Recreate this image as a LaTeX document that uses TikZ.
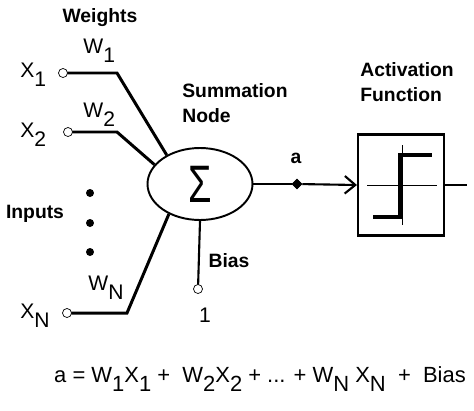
\documentclass[tikz,border=0pt]{standalone}
\usepackage{fontspec}
\setmainfont{Liberation Sans}
\usetikzlibrary{shapes.geometric,arrows.meta}

\tikzstyle{terminal}=[draw,thin,circle,fill=white,minimum size=0.18cm,
    inner sep=0pt,outer sep=0pt]
\tikzstyle{weightline}=[line width=1.7pt]
\tikzstyle{wire}=[line width=1.2pt]
\tikzstyle{caption}=[font=\bfseries\fontsize{11}{14.7}\selectfont,
    inner sep=0pt,align=left]
\tikzstyle{symbol}=[font=\fontsize{12}{14}\selectfont,inner sep=0pt]
\tikzstyle{blob}=[fill,circle,minimum size=0.16cm,inner sep=0pt]
\newcommand{\lowidx}[2]{#1\raisebox{-5.5pt}{#2}}
\newcommand{\inputbranch}[4]{
    \node[terminal] at (#2) (#1) {};
    \coordinate (#1bend) at (#3);
    \draw[weightline] (#1) -- (#1bend) -- (sum.#4);
}

\begin{document}
\begin{tikzpicture}[x=0.02cm,y=-0.02cm]
    \useasboundingbox (0,0) rectangle (474,410);
    %
    \node[draw,ellipse,line width=1.1pt,minimum width=2.1cm,
        minimum height=1.44cm,inner sep=0pt,
        font=\fontsize{30}{30}\selectfont] (sum) at (200,184)
        {\scalebox{0.72}[1]{Σ}};
    %
    \inputbranch{x1}{63,73}{117,73}{139}
    \inputbranch{x2}{68,132}{117,132}{157}
    \inputbranch{xn}{67,313}{127,313}{224}
    \node[symbol,anchor=base west] (lx1) at (20,77) {\lowidx{X}{1}};
    \node[symbol,anchor=base west] (lx2) at (20,137) {\lowidx{X}{2}};
    \node[symbol,anchor=base west] (lxn) at (20,318) {\lowidx{X}{N}};
    \node[symbol,anchor=base west] (lw1) at (83,53) {\lowidx{W}{1}};
    \node[symbol,anchor=base west] (lw2) at (83,117) {\lowidx{W}{2}};
    \node[symbol,anchor=base west] (lwn) at (88,290) {\lowidx{W}{N}};
    \foreach \y/\n in {193/1,223/2,252/3}
        \node[blob] (dot\n) at (90,\y) {};
    \node[caption] (weights) at (100,18) {Weights};
    \node[caption] (inputs) at (35,214) {Inputs};
    \node[caption,anchor=west] (sumlabel) at (182,103) {Summation\\Node};
    %
    \node[terminal] (one) at (198,289) {};
    \draw[wire] (sum.south) -- (one);
    \node[caption] (bias) at (229,261) {Bias};
    \node[symbol] (onelabel) at (205,315) {1};
    %
    \node[draw,line width=1.2pt,minimum width=1.72cm,minimum height=2.02cm]
        (act) at (401,185) {};
    \node[caption,anchor=west] (actlabel) at (360,82) {Activation\\Function};
    \node[draw,diamond,fill,inner sep=0pt,minimum size=0.2cm] (adot) at (297,184) {};
    \node[caption] (alabel) at (296,158) {a};
    \draw[wire] (sum.east) -- (adot);
    \draw[wire,-{Straight Barb[length=6pt,width=10pt]}] (adot) -- (act.west);
    \coordinate (out) at (467,185);
    \draw[wire] (act.east) -- (out);
    %
    \draw[thin] (367,185) -- (437,185);
    \draw[thin] (402,145) -- (402,225);
    \draw[line width=2.4pt] (373,217) -- (400,217) -- (400,155) -- (432,155);
    %
    \node[symbol,anchor=base,font=\fontsize{12.5}{14}\selectfont] (eqn) at (260,382)
        {a = \lowidx{W}{1}\lowidx{X}{1} + \ \lowidx{W}{2}\lowidx{X}{2} + ... +
        \lowidx{W}{N} \lowidx{X}{N} \ + \ Bias};
\end{tikzpicture}
\end{document}
